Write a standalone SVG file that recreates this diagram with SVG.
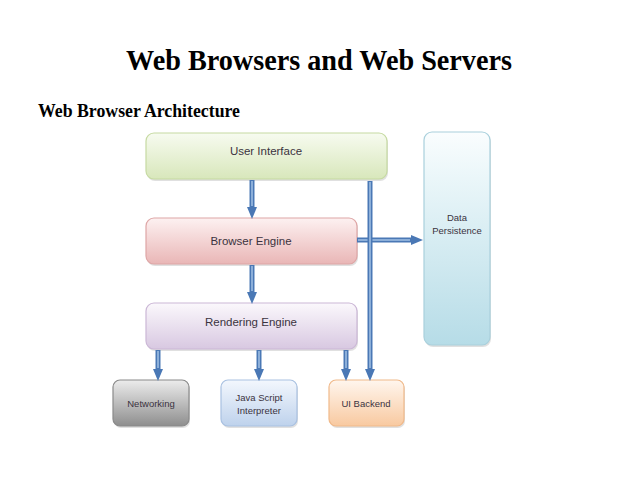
<svg xmlns="http://www.w3.org/2000/svg" width="638" height="478" viewBox="0 0 638 478">
<style>
.title{font-family:"Liberation Serif","Times New Roman",serif;font-weight:bold;fill:#000}
.lbl{font-family:"Liberation Sans",Arial,sans-serif;fill:#3b3340;text-anchor:middle}
.shaft{stroke:#4a78b5;stroke-width:5;fill:none}
.core{stroke:#a3c2e6;stroke-width:1.5;fill:none}
.shadow{fill:#000;opacity:0.12}
</style>
<defs>
<linearGradient id="gUI" x1="0" y1="0" x2="0" y2="1"><stop offset="0" stop-color="#f7fbf0"/><stop offset="1" stop-color="#d8e7bb"/></linearGradient>
<linearGradient id="gBE" x1="0" y1="0" x2="0" y2="1"><stop offset="0" stop-color="#fdf1f1"/><stop offset="1" stop-color="#e9b6b6"/></linearGradient>
<linearGradient id="gRE" x1="0" y1="0" x2="0" y2="1"><stop offset="0" stop-color="#fbf8fc"/><stop offset="1" stop-color="#d8c8e1"/></linearGradient>
<linearGradient id="gDP" x1="0" y1="0" x2="0" y2="1"><stop offset="0" stop-color="#fafdfe"/><stop offset="0.22" stop-color="#eaf6f9"/><stop offset="1" stop-color="#b6dce7"/></linearGradient>
<linearGradient id="gNET" x1="0" y1="0" x2="0" y2="1"><stop offset="0" stop-color="#ececec"/><stop offset="1" stop-color="#8e8e8e"/></linearGradient>
<linearGradient id="gJS" x1="0" y1="0" x2="0" y2="1"><stop offset="0" stop-color="#f3f7fd"/><stop offset="1" stop-color="#bed2ec"/></linearGradient>
<linearGradient id="gUIB" x1="0" y1="0" x2="0" y2="1"><stop offset="0" stop-color="#fff6ee"/><stop offset="1" stop-color="#f8c9a0"/></linearGradient>
<marker id="head" markerUnits="userSpaceOnUse" viewBox="0 0 12 10" refX="0" refY="5" markerWidth="12" markerHeight="10" orient="auto">
<path d="M0,0 L12,5 L0,10 z" fill="#4a78b5"/>
</marker>
</defs>

<text class="title" x="319" y="70" font-size="30" text-anchor="middle" textLength="386" lengthAdjust="spacingAndGlyphs">Web Browsers and Web Servers</text>
<text class="title" x="38" y="117" font-size="18" textLength="202" lengthAdjust="spacingAndGlyphs">Web Browser Architecture</text>

<g id="user-interface">
<rect class="shadow" x="147" y="135" width="241" height="46" rx="8"/>
<rect x="146" y="133" width="241" height="46" rx="8" fill="url(#gUI)" stroke="#c6daa2" stroke-width="1.2"/>
<text class="lbl" x="266" y="155" font-size="11.5">User Interface</text>
</g>
<g id="browser-engine">
<rect class="shadow" x="147" y="220" width="211" height="46" rx="8"/>
<rect x="146" y="218" width="211" height="46" rx="8" fill="url(#gBE)" stroke="#dea6a6" stroke-width="1.2"/>
<text class="lbl" x="251" y="245" font-size="11.5">Browser Engine</text>
</g>
<g id="rendering-engine">
<rect class="shadow" x="147" y="305" width="211" height="46" rx="8"/>
<rect x="146" y="303" width="211" height="46" rx="8" fill="url(#gRE)" stroke="#cbb7d6" stroke-width="1.2"/>
<text class="lbl" x="251" y="326" font-size="11.5">Rendering Engine</text>
</g>
<g id="data-persistence">
<rect class="shadow" x="425" y="134" width="66" height="213" rx="8"/>
<rect x="424" y="132" width="66" height="213" rx="8" fill="url(#gDP)" stroke="#a9d0dc" stroke-width="1.2"/>
<text class="lbl" x="457" y="221" font-size="9.5">Data</text>
<text class="lbl" x="457" y="234" font-size="9.5">Persistence</text>
</g>
<g id="networking">
<rect class="shadow" x="114" y="382" width="76" height="46" rx="7"/>
<rect x="113" y="380" width="76" height="46" rx="7" fill="url(#gNET)" stroke="#8a8a8a" stroke-width="1.2"/>
<text class="lbl" x="151" y="407" font-size="9.5">Networking</text>
</g>
<g id="javascript-interpreter">
<rect class="shadow" x="222" y="382" width="76" height="46" rx="7"/>
<rect x="221" y="380" width="76" height="46" rx="7" fill="url(#gJS)" stroke="#a9c1e1" stroke-width="1.2"/>
<text class="lbl" x="259" y="401" font-size="9.5">Java Script</text>
<text class="lbl" x="259" y="414" font-size="9.5">Interpreter</text>
</g>
<g id="ui-backend">
<rect class="shadow" x="330" y="382" width="75" height="46" rx="7"/>
<rect x="329" y="380" width="75" height="46" rx="7" fill="url(#gUIB)" stroke="#f0b98a" stroke-width="1.2"/>
<text class="lbl" x="366" y="407" font-size="9.5">UI Backend</text>
</g>

<g id="connectors">
<line class="shaft" x1="252" y1="180" x2="252" y2="207" marker-end="url(#head)"/>
<line class="core" x1="252" y1="181" x2="252" y2="206"/>
<line class="shaft" x1="252" y1="265" x2="252" y2="292" marker-end="url(#head)"/>
<line class="core" x1="252" y1="266" x2="252" y2="291"/>
<line class="shaft" x1="158" y1="350" x2="158" y2="369" marker-end="url(#head)"/>
<line class="core" x1="158" y1="351" x2="158" y2="368"/>
<line class="shaft" x1="259" y1="350" x2="259" y2="369" marker-end="url(#head)"/>
<line class="core" x1="259" y1="351" x2="259" y2="368"/>
<line class="shaft" x1="346" y1="350" x2="346" y2="369" marker-end="url(#head)"/>
<line class="core" x1="346" y1="351" x2="346" y2="368"/>
<line class="shaft" x1="357" y1="240" x2="411" y2="240" marker-end="url(#head)"/>
<line class="core" x1="358" y1="240" x2="410" y2="240"/>
<line class="shaft" x1="370" y1="181" x2="370" y2="369" marker-end="url(#head)"/>
<line class="core" x1="370" y1="182" x2="370" y2="368"/>
</g>
</svg>
